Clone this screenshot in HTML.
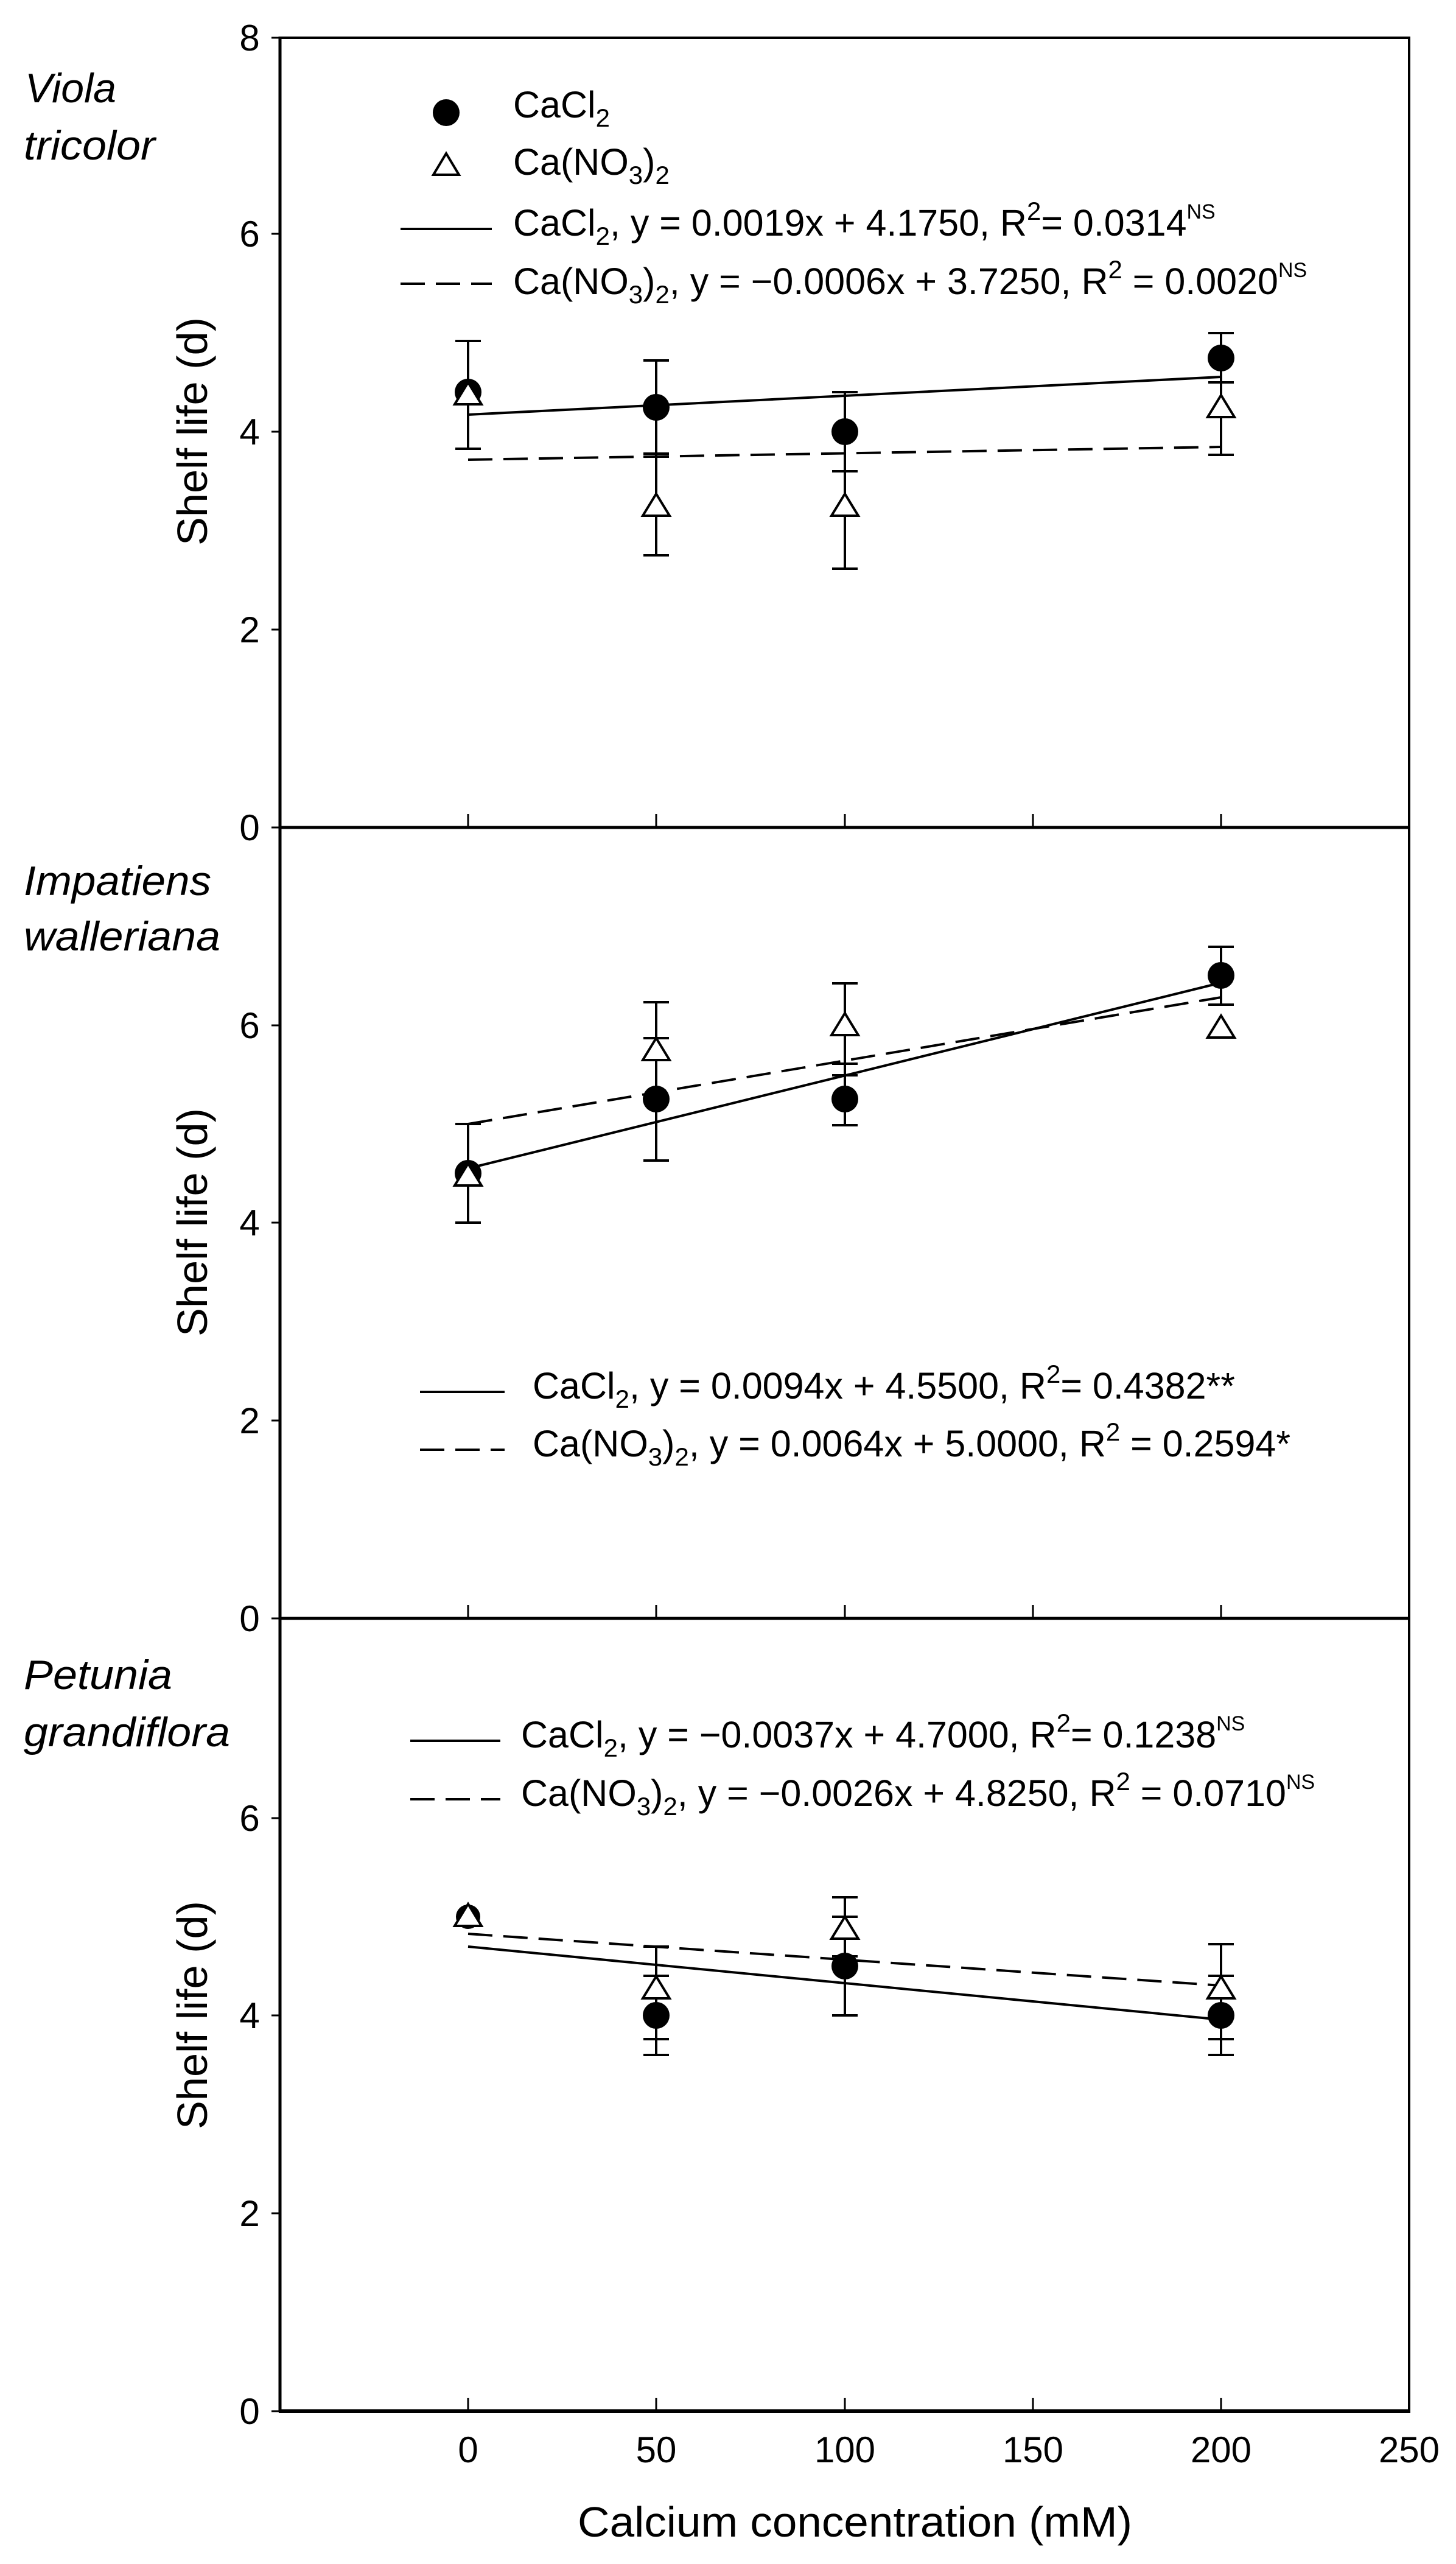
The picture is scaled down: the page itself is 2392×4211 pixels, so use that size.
<!DOCTYPE html>
<html><head><meta charset="utf-8"><style>
html,body{margin:0;padding:0;background:#fff}
svg{display:block}
text{font-family:"Liberation Sans",Arial,sans-serif;fill:#000}
</style></head><body>
<svg width="2392" height="4211" viewBox="0 0 2392 4211" xmlns="http://www.w3.org/2000/svg">
<g stroke="#000" fill="none">
<line x1="460" y1="60" x2="460" y2="3962" stroke-width="5"/>
<line x1="2315" y1="62" x2="2315" y2="3962" stroke-width="4"/>
<line x1="458" y1="62" x2="2317" y2="62" stroke-width="4"/>
<line x1="458" y1="1359" x2="2317" y2="1359" stroke-width="5"/>
<line x1="458" y1="2658" x2="2317" y2="2658" stroke-width="5"/>
<line x1="458" y1="3960" x2="2317" y2="3960" stroke-width="6"/>
<g stroke-width="3">
<line x1="446" y1="62" x2="460" y2="62"/>
<line x1="446" y1="384" x2="460" y2="384"/><line x1="446" y1="709" x2="460" y2="709"/><line x1="446" y1="1034" x2="460" y2="1034"/><line x1="446" y1="1359" x2="460" y2="1359"/>
<line x1="446" y1="1684" x2="460" y2="1684"/><line x1="446" y1="2008" x2="460" y2="2008"/><line x1="446" y1="2333" x2="460" y2="2333"/><line x1="446" y1="2658" x2="460" y2="2658"/>
<line x1="446" y1="2986" x2="460" y2="2986"/><line x1="446" y1="3310" x2="460" y2="3310"/><line x1="446" y1="3635" x2="460" y2="3635"/><line x1="446" y1="3960" x2="460" y2="3960"/>
</g>
<g stroke-width="3">
<path d="M769 1359v-22M1078 1359v-22M1388 1359v-22M1697 1359v-22M2006 1359v-22"/>
<path d="M769 2658v-22M1078 2658v-22M1388 2658v-22M1697 2658v-22M2006 2658v-22"/>
<path d="M769 3960v-22M1078 3960v-22M1388 3960v-22M1697 3960v-22M2006 3960v-22"/>
</g>

<line x1="769" y1="681" x2="2006" y2="619" stroke-width="4"/>
<line x1="769" y1="755" x2="2006" y2="734" stroke-width="4" stroke-dasharray="40,18"/>
<g stroke-width="4">
<path d="M769 560V737M748 560h42M748 737h42"/>
<path d="M1078 592V912M1057 592h42M1057 745h42M1057 750h42M1057 912h42"/>
<path d="M1388 644V934M1367 644h42M1367 774h42M1367 934h42"/>
<path d="M2006 547V747M1985 547h42M1985 628h42M1985 747h42"/>
</g>
<g fill="#000" stroke="none">
<circle cx="769" cy="644" r="22"/><circle cx="1078" cy="669" r="22"/><circle cx="1388" cy="709" r="22"/><circle cx="2006" cy="588" r="22"/>
</g>
<g fill="#fff" stroke-width="4">
<polygon points="769,628 747,664 791,664"/>
<polygon points="1078,811 1056,847 1100,847"/>
<polygon points="1388,811 1366,847 1410,847"/>
<polygon points="2006,649 1984,685 2028,685"/>
</g>
<ellipse cx="733" cy="185" rx="22" ry="22" fill="#000" stroke="none"/>
<polygon points="733,252 712,287 754,287" fill="#fff" stroke-width="4"/>
<line x1="658" y1="376" x2="808" y2="376" stroke-width="4"/>
<line x1="658" y1="466" x2="808" y2="466" stroke-width="4" stroke-dasharray="40,18"/>

<line x1="769" y1="1919" x2="2006" y2="1614" stroke-width="4"/>
<line x1="769" y1="1846" x2="2006" y2="1638" stroke-width="4" stroke-dasharray="40,18"/>
<g stroke-width="4">
<path d="M769 1846V2008M748 1846h42M748 2008h42"/>
<path d="M1078 1646V1906M1057 1646h42M1057 1705h42M1057 1906h42"/>
<path d="M1388 1615V1848M1367 1615h42M1367 1747h42M1367 1766h42M1367 1848h42"/>
<path d="M2006 1555V1650M1985 1555h42M1985 1650h42"/>
</g>
<g fill="#000" stroke="none">
<circle cx="769" cy="1927" r="22"/><circle cx="1078" cy="1805" r="22"/><circle cx="1388" cy="1805" r="22"/><circle cx="2006" cy="1602" r="22"/>
</g>
<g fill="#fff" stroke-width="4">
<polygon points="769,1911 747,1947 791,1947"/>
<polygon points="1078,1705 1056,1741 1100,1741"/>
<polygon points="1388,1664 1366,1700 1410,1700"/>
<polygon points="2006,1668 1984,1704 2028,1704"/>
</g>
<line x1="690" y1="2286" x2="829" y2="2286" stroke-width="4"/>
<line x1="690" y1="2381" x2="829" y2="2381" stroke-width="4" stroke-dasharray="40,18"/>

<line x1="769" y1="3197" x2="2006" y2="3317" stroke-width="4"/>
<line x1="769" y1="3176" x2="2006" y2="3261" stroke-width="4" stroke-dasharray="40,18"/>
<g stroke-width="4">
<path d="M1078 3197V3375M1057 3197h42M1057 3245h42M1057 3349h42M1057 3375h42"/>
<path d="M1388 3116V3310M1367 3116h42M1367 3148h42M1367 3213h42M1367 3310h42"/>
<path d="M2006 3193V3375M1985 3193h42M1985 3245h42M1985 3349h42M1985 3375h42"/>
</g>
<g fill="#000" stroke="none">
<circle cx="769" cy="3148" r="20"/><circle cx="1078" cy="3310" r="22"/><circle cx="1388" cy="3229" r="22"/><circle cx="2006" cy="3310" r="22"/>
</g>
<g fill="#fff" stroke-width="4">
<polygon points="769,3127 747,3163 791,3163"/>
<polygon points="1078,3246 1056,3282 1100,3282"/>
<polygon points="1388,3148 1366,3184 1410,3184"/>
<polygon points="2006,3246 1984,3282 2028,3282"/>
</g>
<line x1="674" y1="2859" x2="822" y2="2859" stroke-width="4"/>
<line x1="674" y1="2955" x2="822" y2="2955" stroke-width="4" stroke-dasharray="40,18"/>
</g>

<g font-size="60" text-anchor="middle">
<text x="410" y="83">8</text><text x="410" y="405">6</text><text x="410" y="730">4</text><text x="410" y="1055">2</text><text x="410" y="1380">0</text>
<text x="410" y="1705">6</text><text x="410" y="2029">4</text><text x="410" y="2354">2</text><text x="410" y="2679">0</text>
<text x="410" y="3007">6</text><text x="410" y="3331">4</text><text x="410" y="3656">2</text><text x="410" y="3981">0</text>
<text x="769" y="4044">0</text><text x="1078" y="4044">50</text><text x="1388" y="4044">100</text><text x="1697" y="4044">150</text><text x="2006" y="4044">200</text><text x="2315" y="4044">250</text>
</g>
<text x="949" y="4166" font-size="70" textLength="911" lengthAdjust="spacingAndGlyphs">Calcium concentration (mM)</text>

<g font-size="70">
<text transform="translate(340,896) rotate(-90)" textLength="375" lengthAdjust="spacingAndGlyphs">Shelf life (d)</text>
<text transform="translate(340,2195) rotate(-90)" textLength="375" lengthAdjust="spacingAndGlyphs">Shelf life (d)</text>
<text transform="translate(340,3497) rotate(-90)" textLength="375" lengthAdjust="spacingAndGlyphs">Shelf life (d)</text>
</g>

<g font-size="68" font-style="italic">
<text x="41" y="168" textLength="150" lengthAdjust="spacingAndGlyphs">Viola</text>
<text x="39" y="262" textLength="216" lengthAdjust="spacingAndGlyphs">tricolor</text>
<text x="39" y="1470" textLength="308" lengthAdjust="spacingAndGlyphs">Impatiens</text>
<text x="39" y="1561" textLength="323" lengthAdjust="spacingAndGlyphs">walleriana</text>
<text x="39" y="2774" textLength="244" lengthAdjust="spacingAndGlyphs">Petunia</text>
<text x="39" y="2868" textLength="339" lengthAdjust="spacingAndGlyphs">grandiflora</text>
</g>

<g font-size="61">
<text x="843" y="193">CaCl<tspan font-size="42" dy="15">2</tspan></text>
<text x="843" y="287">Ca(NO<tspan font-size="42" dy="15">3</tspan><tspan dy="-15">)</tspan><tspan font-size="42" dy="15">2</tspan></text>
<text x="843" y="387">CaCl<tspan font-size="42" dy="15">2</tspan><tspan dy="-15">, y = 0.0019x + 4.1750, R</tspan><tspan font-size="42" dy="-26">2</tspan><tspan dy="26">= 0.0314</tspan><tspan font-size="34" dy="-28">NS</tspan></text>
<text x="843" y="483">Ca(NO<tspan font-size="42" dy="15">3</tspan><tspan dy="-15">)</tspan><tspan font-size="42" dy="15">2</tspan><tspan dy="-15">, y = −0.0006x + 3.7250, R</tspan><tspan font-size="42" dy="-26">2</tspan><tspan dy="26"> = 0.0020</tspan><tspan font-size="34" dy="-28">NS</tspan></text>

<text x="875" y="2297">CaCl<tspan font-size="42" dy="15">2</tspan><tspan dy="-15">, y = 0.0094x + 4.5500, R</tspan><tspan font-size="42" dy="-26">2</tspan><tspan dy="26">= 0.4382**</tspan></text>
<text x="875" y="2392">Ca(NO<tspan font-size="42" dy="15">3</tspan><tspan dy="-15">)</tspan><tspan font-size="42" dy="15">2</tspan><tspan dy="-15">, y = 0.0064x + 5.0000, R</tspan><tspan font-size="42" dy="-26">2</tspan><tspan dy="26"> = 0.2594*</tspan></text>

<text x="856" y="2870">CaCl<tspan font-size="42" dy="15">2</tspan><tspan dy="-15">, y = −0.0037x + 4.7000, R</tspan><tspan font-size="42" dy="-26">2</tspan><tspan dy="26">= 0.1238</tspan><tspan font-size="34" dy="-28">NS</tspan></text>
<text x="856" y="2966">Ca(NO<tspan font-size="42" dy="15">3</tspan><tspan dy="-15">)</tspan><tspan font-size="42" dy="15">2</tspan><tspan dy="-15">, y = −0.0026x + 4.8250, R</tspan><tspan font-size="42" dy="-26">2</tspan><tspan dy="26"> = 0.0710</tspan><tspan font-size="34" dy="-28">NS</tspan></text>
</g>
</svg>
</body></html>
